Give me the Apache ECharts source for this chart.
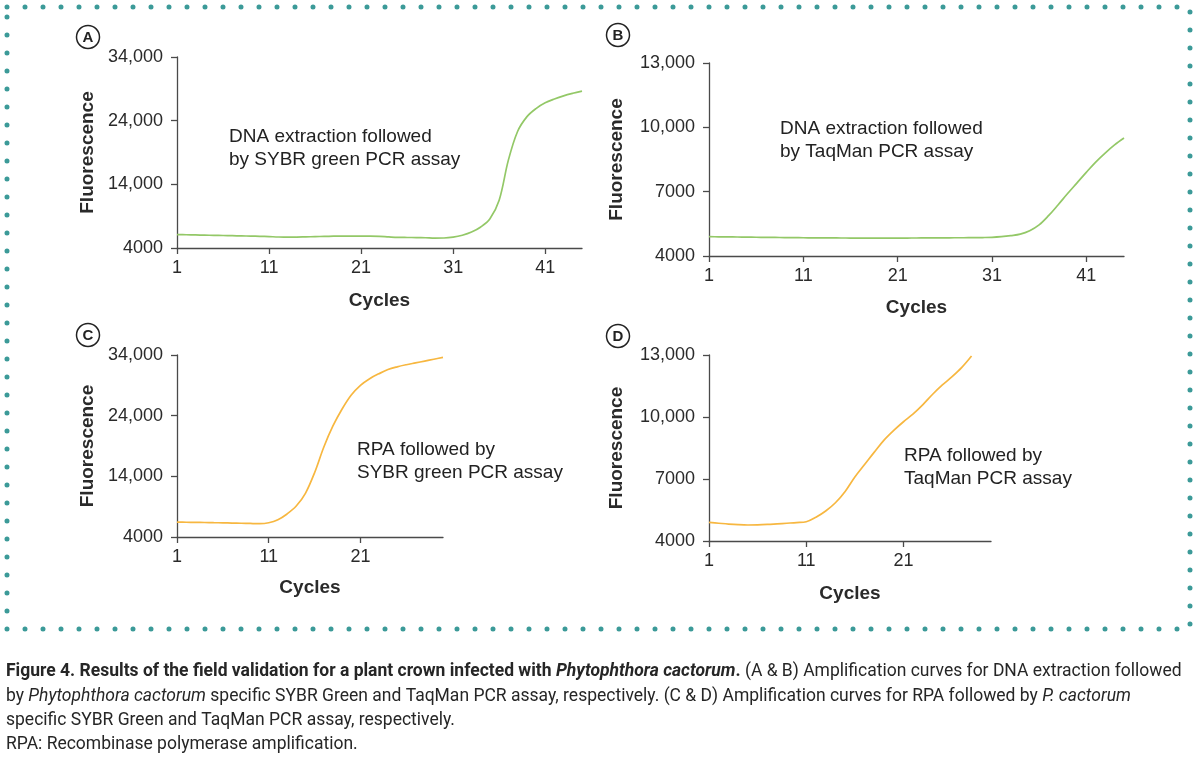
<!DOCTYPE html>
<html>
<head>
<meta charset="utf-8">
<style>
  html, body { margin: 0; padding: 0; background: #ffffff; }
  #chart { width: 1200px; height: 758px; }
</style>
<script src="https://cdn.jsdelivr.net/npm/echarts@6/dist/echarts.min.js"></script>
</head>
<body>
<div id="chart"></div>
<script>
// ---------- Data ----------
const cyclesAB = [1,2,3,4,5,6,7,8,9,10,11,12,13,14,15,16,17,18,19,20,21,22,23,24,25,26,27,28,29,30,31,32,33,34,35,36,37,38,39,40,41,42,43,44,45];
const cyclesC  = [1,2,3,4,5,6,7,8,9,10,11,12,13,14,15,16,17,18,19,20,21,22,23,24,25,26,27,28,29,30];
const cyclesD  = [1,2,3,4,5,6,7,8,9,10,11,12,13,14,15,16,17,18,19,20,21,22,23,24,25,26,27,28];

const fluorA = [6100,6080,6050,6020,5990,5960,5930,5900,5870,5840,5790,5730,5700,5710,5750,5790,5820,5850,5870,5880,5880,5870,5820,5740,5670,5650,5640,5610,5560,5570,5700,6000,6500,7300,8600,11500,17800,22300,24600,25900,26800,27400,27900,28300,28650];
const fluorB = [4900,4895,4890,4885,4880,4875,4870,4865,4860,4855,4850,4848,4845,4842,4840,4838,4836,4835,4835,4835,4836,4838,4840,4842,4845,4848,4850,4852,4855,4860,4870,4900,4950,5020,5180,5450,5880,6380,6900,7400,7900,8380,8800,9180,9500];
const fluorC = [6450,6430,6410,6390,6360,6330,6300,6270,6230,6200,6350,6850,7800,9100,11200,14600,18800,22300,25100,27400,29000,30100,30900,31600,32050,32400,32700,33000,33300,33600];
const fluorD = [4900,4860,4820,4790,4775,4780,4800,4830,4860,4890,4930,5150,5450,5850,6400,7100,7700,8300,8880,9350,9770,10150,10600,11100,11550,11950,12400,12950];

const xTicksAB = [1, 11, 21, 31, 41];
const xTicksCD = [1, 11, 21];
const yTicksAC = [4000, 14000, 24000, 34000];
const yLabelsAC = ['4000', '14,000', '24,000', '34,000'];
const yTicksBD = [4000, 7000, 10000, 13000];
const yLabelsBD = ['4000', '7000', '10,000', '13,000'];

const panelLetters = ['A', 'B', 'C', 'D'];
const panelNotes = [
  'DNA extraction followed\nby SYBR green PCR assay',
  'DNA extraction followed\nby TaqMan PCR assay',
  'RPA followed by\nSYBR green PCR assay',
  'RPA followed by\nTaqMan PCR assay'
];
const xAxisName = 'Cycles';
const yAxisName = 'Fluorescence';

// ---------- Styling ----------
const GREEN = '#93c867';
const ORANGE = '#f7b740';
const AXIS = '#4a4a4a';
const TXT = '#2a2a2a';
const FONT = "'Liberation Sans', Arial, sans-serif";

function pairs(xs, ys) { return xs.map((x, i) => [x, ys[i]]); }

const grids = [
  { left: 177, top: 57,  width: 405, height: 191 },
  { left: 709, top: 63,  width: 415, height: 193 },
  { left: 177, top: 355, width: 266, height: 182 },
  { left: 709, top: 355, width: 282, height: 186 }
];

const xMax = [45, 45, 30, 30];
const xTicks = [xTicksAB, xTicksAB, xTicksCD, xTicksCD];
const yMin = [4000, 4000, 4000, 4000];
const yMax = [34000, 13000, 34000, 13000];
const yTicks = [yTicksAC, yTicksBD, yTicksAC, yTicksBD];
const yLabels = [yLabelsAC, yLabelsBD, yLabelsAC, yLabelsBD];
const xNameGap = [43, 42, 41, 43];
const yNameGap = [80, 83, 80, 83];

const xAxes = grids.map((g, i) => ({
  type: 'value', gridIndex: i, min: 1, max: xMax[i],
  name: xAxisName, nameLocation: 'middle', nameGap: xNameGap[i],
  nameTextStyle: { fontFamily: FONT, fontWeight: 'bold', fontSize: 19, color: TXT },
  axisLine: { show: true, onZero: false, lineStyle: { color: AXIS, width: 1.3 } },
  axisTick: { show: true, length: 6, customValues: xTicks[i], lineStyle: { color: AXIS, width: 1.3 } },
  axisLabel: { customValues: xTicks[i], fontFamily: FONT, fontSize: 18, color: TXT, margin: 11 },
  splitLine: { show: false }
}));

const yAxes = grids.map((g, i) => ({
  type: 'value', gridIndex: i, min: yMin[i], max: yMax[i],
  name: yAxisName, nameLocation: 'middle', nameGap: yNameGap[i], nameRotate: 90,
  nameTextStyle: { fontFamily: FONT, fontWeight: 'bold', fontSize: 19, color: TXT },
  axisLine: { show: true, onZero: false, lineStyle: { color: AXIS, width: 1.3 } },
  axisTick: { show: true, length: 6, customValues: yTicks[i], lineStyle: { color: AXIS, width: 1.3 } },
  axisLabel: {
    customValues: yTicks[i], fontFamily: FONT, fontSize: 18, color: TXT, margin: 14,
    formatter: (v) => { const k = yTicks[i].indexOf(v); return k >= 0 ? yLabels[i][k] : ''; }
  },
  splitLine: { show: false }
}));

const seriesData = [pairs(cyclesAB, fluorA), pairs(cyclesAB, fluorB), pairs(cyclesC, fluorC), pairs(cyclesD, fluorD)];
const seriesColors = [GREEN, GREEN, ORANGE, ORANGE];
const series = seriesData.map((d, i) => ({
  type: 'line', xAxisIndex: i, yAxisIndex: i, data: d,
  smooth: 0.35, showSymbol: false, silent: true,
  lineStyle: { color: seriesColors[i], width: 1.7 }
}));

// ---------- Graphics: border, letters, notes, caption ----------
const letterPos = [[88, 37], [618, 35], [88, 335], [618, 336]];
const notePos = [[229, 125], [780, 117], [357, 438], [904, 444]];

const graphics = [];
graphics.push({
  type: 'rect', silent: true,
  shape: { x: 7, y: 7, width: 1183, height: 622 },
  style: { fill: 'none', stroke: '#3b9a98', lineWidth: 5, lineDash: [0, 18], lineCap: 'round' }
});
panelLetters.forEach((L, i) => {
  graphics.push({
    type: 'circle', silent: true,
    shape: { cx: letterPos[i][0], cy: letterPos[i][1], r: 11.5 },
    style: { fill: '#fff', stroke: '#222', lineWidth: 1.5 }
  });
  graphics.push({
    type: 'text', silent: true, x: letterPos[i][0], y: letterPos[i][1] + 0.5,
    style: { text: L, fontFamily: FONT, fontWeight: 'bold', fontSize: 15, fill: '#222', textAlign: 'center', textVerticalAlign: 'middle' }
  });
});
panelNotes.forEach((t, i) => {
  graphics.push({
    type: 'text', silent: true, x: notePos[i][0], y: notePos[i][1],
    style: { text: t, fontFamily: FONT, fontSize: 19, lineHeight: 23, fill: '#222', textAlign: 'left', textVerticalAlign: 'top' }
  });
});

const CAP_FONT = "Roboto, 'Liberation Sans', sans-serif";
const CAP_SIZE = 17.5;
const CAP_COLOR = '#262626';
const capRich = {
  b:  { fontFamily: CAP_FONT, fontSize: CAP_SIZE, fontWeight: 'bold', fill: CAP_COLOR },
  bi: { fontFamily: CAP_FONT, fontSize: CAP_SIZE, fontWeight: 'bold', fontStyle: 'italic', fill: CAP_COLOR },
  n:  { fontFamily: CAP_FONT, fontSize: CAP_SIZE, fill: CAP_COLOR },
  i:  { fontFamily: CAP_FONT, fontSize: CAP_SIZE, fontStyle: 'italic', fill: CAP_COLOR }
};
const captionLines = [
  '{b|Figure 4. Results of the field validation for a plant crown infected with }{bi|Phytophthora cactorum}{b|.}{n| (A & B) Amplification curves for DNA extraction followed}',
  '{n|by }{i|Phytophthora cactorum}{n| specific SYBR Green and TaqMan PCR assay, respectively. (C & D) Amplification curves for RPA followed by }{i|P. cactorum}',
  '{n|specific SYBR Green and TaqMan PCR assay, respectively.}',
  '{n|RPA: Recombinase polymerase amplification.}'
];
const captionY = [672, 697, 721, 745];
captionLines.forEach((t, i) => {
  graphics.push({
    type: 'text', silent: true, x: 6, y: captionY[i],
    style: { text: t, rich: capRich, textAlign: 'left', textVerticalAlign: 'middle' }
  });
});

const chart = echarts.init(document.getElementById('chart'), null, { renderer: 'canvas' });
chart.setOption({
  animation: false,
  backgroundColor: '#ffffff',
  grid: grids,
  xAxis: xAxes,
  yAxis: yAxes,
  series: series,
  graphic: graphics
});
</script>
</body>
</html>
